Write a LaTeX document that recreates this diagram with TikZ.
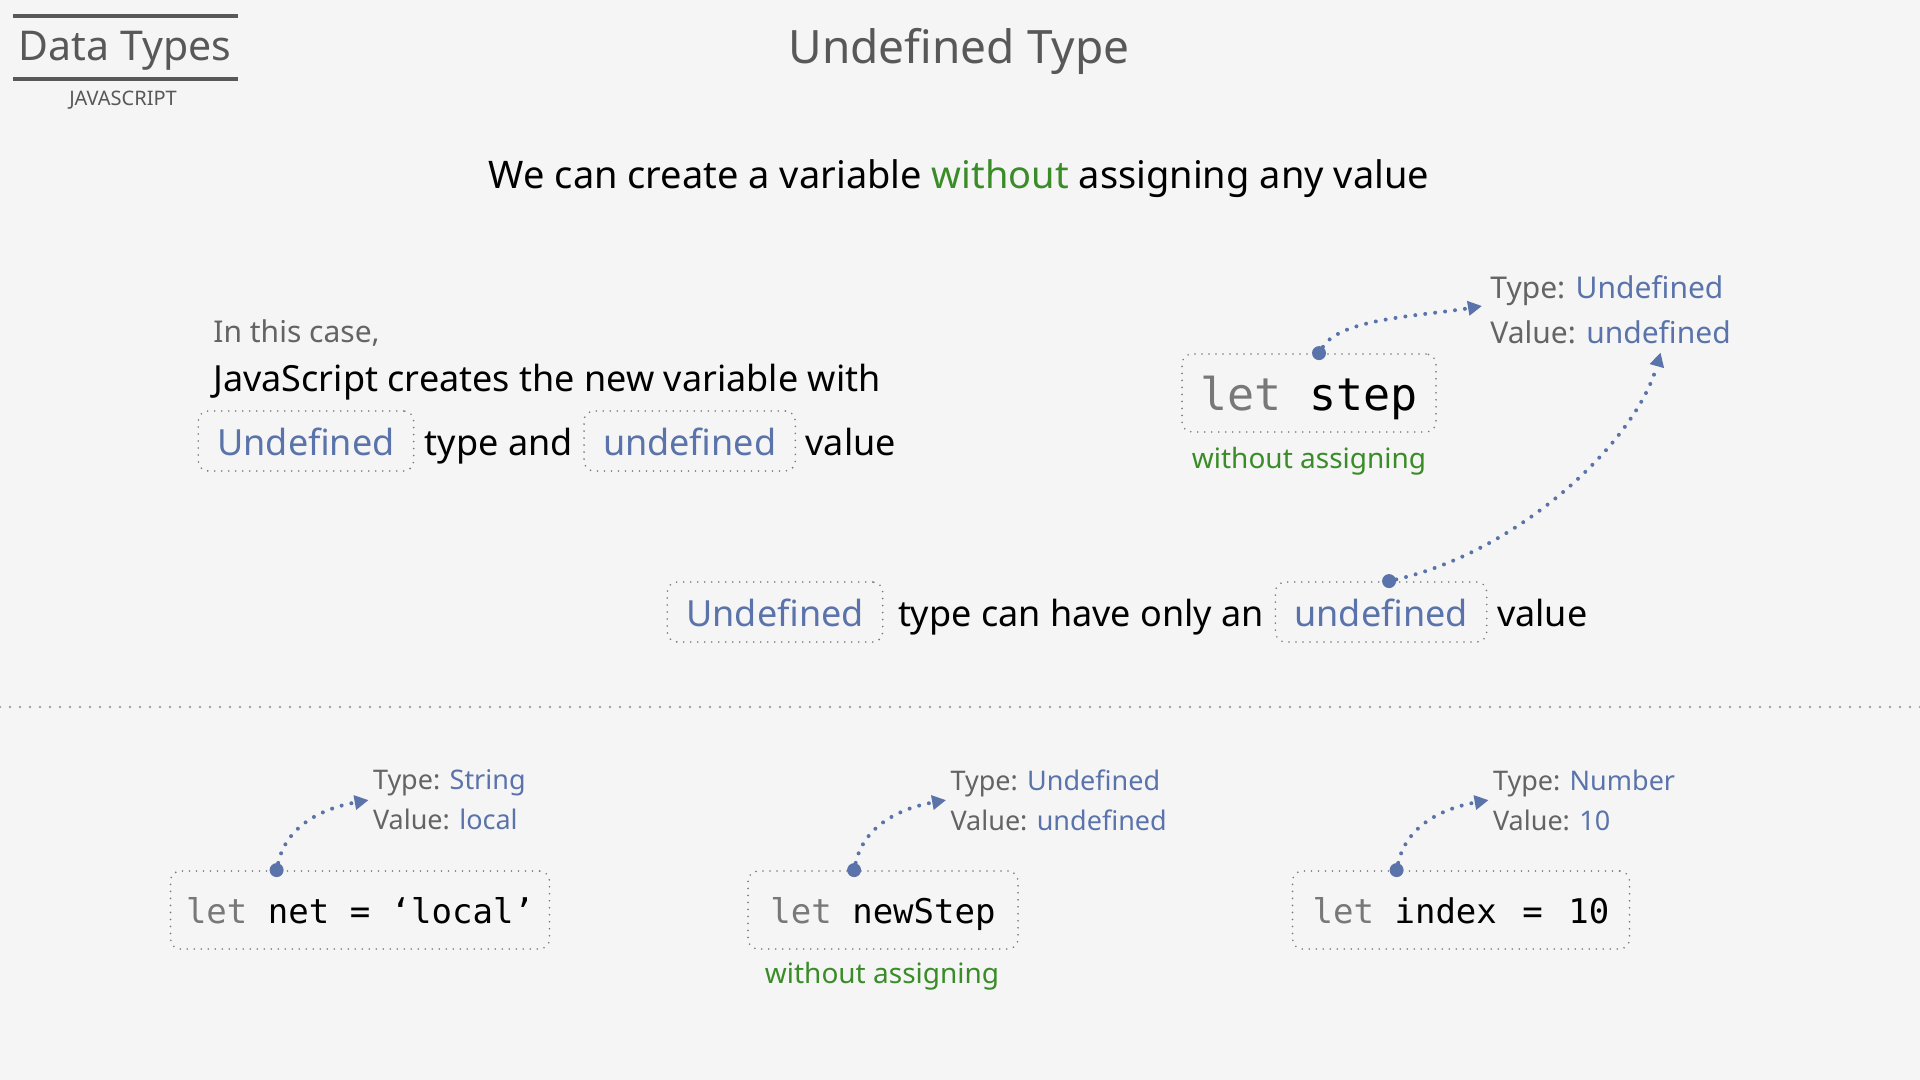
\documentclass[tikz,border=0pt]{standalone}
\usepackage{fontspec}
\setmainfont{Noto Sans}
\setmonofont{DejaVu Sans Mono}
\usetikzlibrary{arrows.meta, positioning}
\definecolor{bgcolor}{RGB}{245,245,245}
\definecolor{typeblue}{RGB}{90,115,170}
\definecolor{okgreen}{RGB}{58,140,40}
\definecolor{labelgray}{RGB}{100,100,100}
\definecolor{titlegray}{RGB}{88,88,88}
\definecolor{letgray}{RGB}{120,120,120}
\definecolor{dotgray}{RGB}{120,120,120}

\begin{document}
\begin{tikzpicture}[
    x=0.5pt, y=-0.5pt,
    txt/.style={inner sep=0pt, text height=16pt, text depth=2pt, font=\fontsize{18}{22}\selectfont},
    tbox/.style={draw=dotgray, line width=0.9pt, dash pattern=on 0pt off 3.5pt, line cap=round, rounded corners=5pt, text=typeblue, minimum height=30pt, inner xsep=9.5pt, text height=16pt, text depth=2pt, font=\fontsize{18}{22}\selectfont},
    codebox/.style={draw=dotgray, line width=0.9pt, dash pattern=on 0pt off 3.5pt, line cap=round, rounded corners=5pt, minimum height=39pt, text height=15pt, text depth=2pt, font=\ttfamily\fontsize{17}{20}\selectfont},
    info/.style={align=left, inner sep=0pt, text=labelgray, font=\fontsize{13.5}{20}\selectfont},
    note/.style={text=okgreen, inner sep=0pt, font=\fontsize{14}{17}\selectfont},
    link/.style={draw=typeblue, line width=2pt, dash pattern=on 0pt off 5pt, line cap=round, -{Triangle[length=7pt,width=7pt]}},
    anchordot/.style={circle, fill=typeblue, inner sep=0pt, minimum size=7pt},
    sepline/.style={draw=dotgray!70, line width=1.4pt, dash pattern=on 0pt off 5pt, line cap=round}
]
    \useasboundingbox (0,0) rectangle (1920,1080);
    \fill[bgcolor] (0,0) rectangle (1920,1080);

    % Header
    \draw[titlegray, line width=1.6pt] (13,16) -- (238,16);
    \draw[titlegray, line width=1.6pt] (13,79) -- (238,79);
    \node[text=titlegray, font=\fontsize{20.5}{24}\selectfont] (brand) at (125,51) {Data Types};
    \node[text=titlegray, font=\fontsize{10}{12}\selectfont] (lang) at (123,100) {JAVASCRIPT};
    \node[text=titlegray, font=\fontsize{23}{28}\selectfont] (title) at (959,51) {Undefined Type};
    \node[font=\fontsize{19}{23}\selectfont] (lead) at (959,179) {We can create a variable \textcolor{okgreen}{without} assigning any value};

    % Explanation
    \node[anchor=west, inner sep=0pt, text=labelgray, font=\fontsize{15}{18}\selectfont] (case) at (213,333) {In this case,};
    \node[txt, anchor=west] (js) at (213,378) {JavaScript creates the new variable with};
    \node[tbox] (utype) at (306,441) {Undefined};
    \node[txt, right=5pt of utype] (tand) {type and};
    \node[tbox, right=5pt of tand] (uval) {undefined};
    \node[txt, right=4.5pt of uval] (tvalue) {value};

    % Variable without value
    \node[codebox, minimum width=127pt, text height=19.9pt, text depth=2.6pt, font=\ttfamily\fontsize{22.5}{27}\selectfont] (step) at (1309,393) {\textcolor{letgray}{let} step};
    \node[note] (nostep) at (1309,461) {without assigning};
    \node[info, anchor=west, font=\fontsize{15}{22.5}\selectfont] (stepinfo) at (1490,310) {Type: \textcolor{typeblue}{Undefined}\\Value: \textcolor{typeblue}{undefined}};
    \node[anchordot] (sdot) at ([xshift=5pt]step.north) {};
    \draw[link] (sdot) .. controls +(22,-35) and +(-60,10) .. ([xshift=-4pt,yshift=2pt]stepinfo.west);

    % Only value
    \node[tbox] (utype2) at (775,612) {Undefined};
    \node[txt, right=7pt of utype2] (tonly) {type can have only an};
    \node[tbox, right=5pt of tonly] (uval2) {undefined};
    \node[txt, right=4.5pt of uval2] (tvalue2) {value};
    \node[anchordot] (vdot) at ([xshift=4pt]uval2.north) {};
    \draw[link] (vdot) .. controls +(130,-30) and +(-25,90) .. ([xshift=25pt,yshift=-4pt]stepinfo.south);

    % Separator
    \draw[sepline] (0,707) -- (1920,707);

    % Examples
    \node[codebox, minimum width=189.5pt] (net) at (360,910) {\textcolor{letgray}{let} net = ‘local’};
    \node[codebox, minimum width=135pt] (newstep) at (883,910) {\textcolor{letgray}{let} newStep};
    \node[codebox, minimum width=168.5pt] (index) at (1461,910) {\textcolor{letgray}{let} index\hspace{0.75em}=\hspace{0.75em}10};
    \node[note] (nonew) at (882,976) {without assigning};

    \node[anchordot] (ndot) at ([xshift=53.5pt]net.north west) {};
    \node[anchordot] (sdot2) at ([xshift=53.5pt]newstep.north west) {};
    \node[anchordot] (idot) at ([xshift=52.5pt]index.north west) {};

    \node[info, anchor=west] (netinfo) at ([xshift=48pt,yshift=35pt]ndot) {Type: \textcolor{typeblue}{String}\\Value: \textcolor{typeblue}{local}};
    \node[info, anchor=west] (newinfo) at ([xshift=48pt,yshift=35pt]sdot2) {Type: \textcolor{typeblue}{Undefined}\\Value: \textcolor{typeblue}{undefined}};
    \node[info, anchor=west] (idxinfo) at ([xshift=48pt,yshift=35pt]idot) {Type: \textcolor{typeblue}{Number}\\Value: \textcolor{typeblue}{10}};

    \draw[link] (ndot) .. controls +(10,-45) and +(-45,8) .. ([xshift=-2pt]netinfo.west);
    \draw[link] (sdot2) .. controls +(10,-45) and +(-45,8) .. ([xshift=-2pt]newinfo.west);
    \draw[link] (idot) .. controls +(10,-45) and +(-45,8) .. ([xshift=-2pt]idxinfo.west);
\end{tikzpicture}
\end{document}
